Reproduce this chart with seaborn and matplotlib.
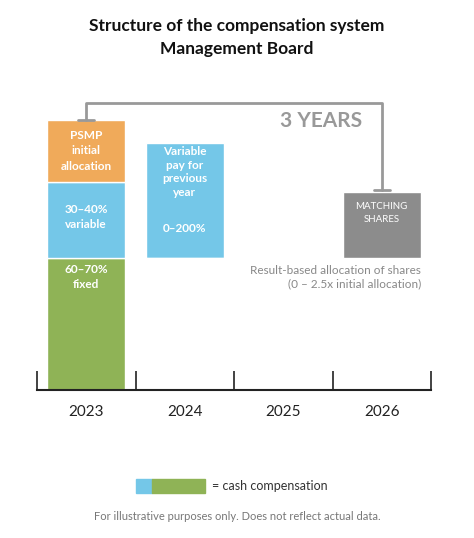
import matplotlib
matplotlib.use("Agg")
import matplotlib.pyplot as plt
import seaborn as sns
import pandas as pd

years = ["2023", "2024", "2025", "2026"]
fixed = [132, 0, 0, 0]
variable = [76, 0, 0, 0]
psmp = [62, 0, 0, 0]
prev_bottom = [0, 132, 0, 132]
prev_height = [0, 115, 0, 0]
match_height = [0, 0, 0, 66]

GREEN, BLUE, ORANGE, GRAY = "#8FB356", "#74C7E8", "#F0AA5A", "#8C8C8C"

sns.set_theme(style="white")
plt.rcParams["font.family"] = ["Lato", "DejaVu Sans"]
fig = plt.figure(figsize=(4.74, 5.38), dpi=100)
ax = fig.add_axes([37 / 474, 1 - 390 / 538, 394 / 474, 295 / 538])

pos = [0.5, 1.5, 2.5, 3.5]
w = 0.79
df = pd.DataFrame({"x": pos, "fixed": fixed})
sns.barplot(data=df, x="x", y="fixed", native_scale=True, width=w, color=GREEN,
            saturation=1, ax=ax)
ax.bar(pos, variable, bottom=fixed, width=w, color=BLUE)
ax.bar(pos, psmp, bottom=[a + b for a, b in zip(fixed, variable)], width=w, color=ORANGE)
ax.bar(pos, prev_height, bottom=prev_bottom, width=w, color=BLUE)
ax.bar(pos, match_height, bottom=prev_bottom, width=w, color=GRAY)

ax.set_xlim(0, 4)
ax.set_ylim(0, 295)
for s in ["top", "right", "left"]:
    ax.spines[s].set_visible(False)
ax.spines["bottom"].set_color("#222222")
ax.spines["bottom"].set_linewidth(1.5)
ax.set_xticks([0, 1, 2, 3, 4], minor=False)
ax.set_xticklabels([])
ax.tick_params(axis="x", length=14, width=1.2, color="#222222", direction="in", bottom=True)
ax.set_yticks([])
ax.set_xlabel("")
ax.set_ylabel("")
for p, y in zip(pos, years):
    ax.text(p, -22, y, ha="center", va="center", fontsize=11, color="#222222")

tk = dict(ha="center", va="center", color="white", fontweight="bold", fontsize=8.5)
ax.text(0.5, 239, "PSMP\ninitial\nallocation", linespacing=1.5, **tk)
ax.text(0.5, 173, "30–40%\nvariable", linespacing=1.4, **tk)
ax.text(0.5, 113, "60–70%\nfixed", linespacing=1.4, **tk)
ax.text(1.5, 218, "Variable\npay for\nprevious\nyear", linespacing=1.3, **tk)
ax.text(1.5, 162, "0–200%", **tk)
ax.text(3.5, 177, "MATCHING\nSHARES", ha="center", va="center", color="white", fontsize=7, linespacing=1.5)

bc = "#999999"
ax.plot([0.5, 0.5, 3.5, 3.5], [270, 287, 287, 200], color=bc, lw=2)
ax.plot([0.42, 0.58], [280, 280], color=bc, lw=2) if False else None
ax.plot([0.42, 0.58], [287, 287], color=bc, lw=0)
ax.plot([0.42, 0.58], [270, 270], color=bc, lw=2)
ax.plot([3.42, 3.58], [200, 200], color=bc, lw=2)
ax.text(3.3, 269, "3 YEARS", ha="right", va="center", color="#999999", fontsize=15, fontweight="bold")
ax.text(3.9, 113, "Result-based allocation of shares\n(0 – 2.5x initial allocation)",
        ha="right", va="center", color="#888888", fontsize=8.5, linespacing=1.3)

fig.text(0.5, 0.93, "Structure of the compensation system\nManagement Board", ha="center",
         va="center", fontsize=12.5, fontweight="bold", color="#111111", linespacing=1.5)
fig.patches.append(plt.Rectangle((136 / 474, 1 - 493 / 538), 16 / 474, 14 / 538,
                                 color=BLUE, transform=fig.transFigure))
fig.patches.append(plt.Rectangle((152 / 474, 1 - 493 / 538), 53 / 474, 14 / 538,
                                 color=GREEN, transform=fig.transFigure))
fig.text(212 / 474, 1 - 486 / 538, "= cash compensation", va="center", fontsize=9, color="#333333")
fig.text(0.5, 1 - 516 / 538, "For illustrative purposes only. Does not reflect actual data.",
         ha="center", va="center", fontsize=8, color="#777777")

fig.savefig("out.png", dpi=100)
